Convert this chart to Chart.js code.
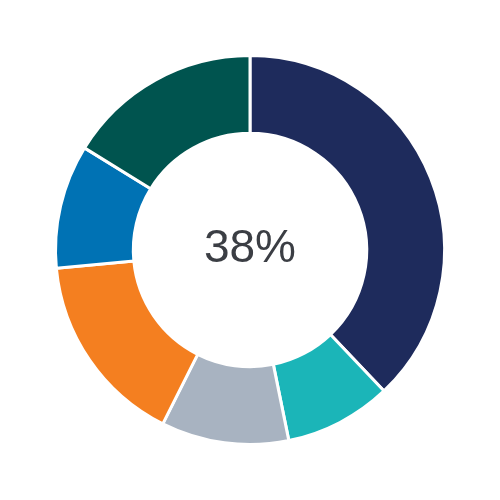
<!DOCTYPE html>
<html>
<head>
<meta charset="utf-8">
<script src="https://cdn.jsdelivr.net/npm/chart.js@4.4.1/dist/chart.umd.min.js"></script>
<style>
  html, body { margin: 0; padding: 0; background: #ffffff; }
  #wrap { position: relative; width: 500px; height: 500px; }
  #center { position: absolute; left: 0; top: 0; width: 500px; height: 500px;
    display: flex; align-items: center; justify-content: center;
    font-family: "Liberation Sans", Arial, sans-serif; font-size: 46px; color: #3b3e44;
    pointer-events: none; }
  #center span { position: relative; top: -4px; }
</style>
</head>
<body>
<div id="wrap">
  <canvas id="c" width="500" height="500"></canvas>
  <div id="center"><span id="centerText"></span></div>
</div>
<script>
const categories = ["A", "B", "C", "D", "E", "F"];
const values = [37.9, 8.9, 10.6, 16.1, 10.3, 16.2];
const colors = ["#1e2b5c", "#1bb5b8", "#a8b3c1", "#f47f20", "#0072b4", "#00544f"];
const centerLabel = "38%";

document.getElementById("centerText").textContent = centerLabel;

new Chart(document.getElementById("c"), {
  type: "doughnut",
  data: {
    labels: categories,
    datasets: [{
      data: values,
      backgroundColor: colors,
      borderColor: "#ffffff",
      borderWidth: 3,
      hoverOffset: 0
    }]
  },
  options: {
    responsive: false,
    animation: false,
    cutout: "60%",
    layout: { padding: 54 },
    plugins: {
      legend: { display: false },
      tooltip: { enabled: false }
    }
  }
});
</script>
</body>
</html>
